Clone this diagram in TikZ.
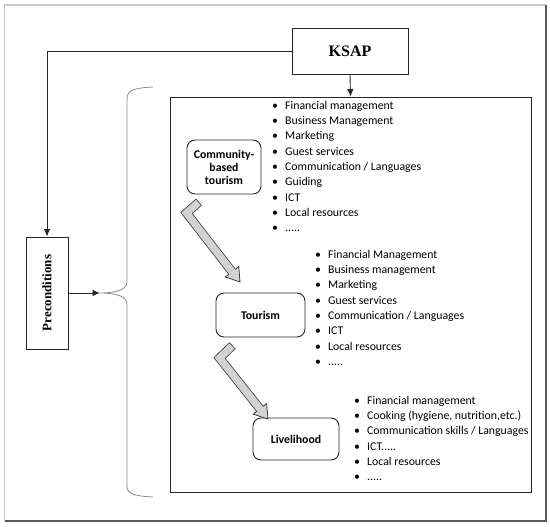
\documentclass[tikz,border=0pt]{standalone}
\usepackage{fontspec}
\setmainfont{Carlito}
\newfontfamily\timesb{Liberation Serif}
\usetikzlibrary{arrows.meta,calc}
\definecolor{framelight}{HTML}{C8C8C8}
\definecolor{framedark}{HTML}{5A5A5A}
\definecolor{linecol}{HTML}{262626}
\definecolor{fatfill}{HTML}{D2D2D2}
\definecolor{fatline}{HTML}{3C3C3C}
\definecolor{bracecol}{HTML}{8A8A8A}
\newcommand{\bul}{\makebox[13pt][l]{•}}
\newcommand{\fatarrow}[3]{%
  \coordinate (fh) at ($(#3)!13pt!(#2)$);
  \draw[fatline, line width=9pt, line join=miter] (#1) -- (#2) -- (fh);
  \filldraw[fill=fatfill, draw=fatline, line width=0.8pt, line join=miter]
    ($(fh)!8.5pt!90:(#3)$) -- (#3) -- ($(fh)!8.5pt!-90:(#3)$) -- cycle;
  \draw[fatfill, line width=7.4pt, line join=miter, shorten <=0.8pt, shorten >=-1.5pt] (#1) -- (#2) -- (fh);
}
\begin{document}
\begin{tikzpicture}[x=1pt,y=-1pt,
  plainbox/.style={draw=linecol, line width=0.9pt, fill=white, inner sep=0},
  roundbox/.style={draw=linecol, line width=0.9pt, rounded corners=8pt, align=center,
    font=\fontsize{11.8}{13}\selectfont\bfseries, inner sep=0},
  listtext/.style={anchor=north west, align=left, inner sep=0,
    font=\fontsize{11.8}{15.3}\selectfont, text=black},
  conn/.style={draw=linecol, line width=0.9pt},
  tip/.style={-{Latex[length=7.5pt,width=6.5pt]}}
]
\useasboundingbox (0,0) rectangle (550,527);
\fill[white] (0,0) rectangle (550,527);
% frame
\draw[framelight, line width=1.5pt] (4.5,521) -- (4.5,5) -- (546,5);
\draw[framedark, line width=1.2pt] (546,5) -- (546,521) -- (4.5,521);

% main nodes
\node[plainbox, minimum width=116pt, minimum height=46pt,
  font=\timesb\bfseries\fontsize{16}{18}\selectfont] (ksap) at (350,51) {KSAP};
\node[plainbox, minimum width=361pt, minimum height=395pt] (main) at (350.5,294.5) {};
\node[plainbox, rotate=90, minimum width=112pt, minimum height=42pt,
  font=\timesb\bfseries\fontsize{13}{15}\selectfont] (pre) at (47,293) {Preconditions};

% brace
\coordinate (bracetip) at (100,293);
\draw[bracecol, line width=0.8pt] (153,87) .. controls (134,88) and (127,90) .. (127,99)
  -- (127,282) .. controls (127,291) and (112,293) .. (bracetip)
  .. controls (112,293) and (127,295) .. (127,304)
  -- (127,486) .. controls (127,494) and (134,496) .. (153,497);

% connectors
\draw[conn, tip] (ksap.west) -| (pre.east);
\draw[conn, tip] (ksap.south) -- (main.north);
\draw[conn, tip] (pre.south) -- (bracetip);

% stage boxes
\node[roundbox, minimum width=74pt, minimum height=54pt] (cbt) at (224,167) {Community-\\based\\tourism};
\node[roundbox, minimum width=89pt, minimum height=44pt] (tour) at (260.5,315) {Tourism};
\node[roundbox, minimum width=86pt, minimum height=42pt] (live) at (296,439) {Livelihood};

% lists
\node[listtext] (l1) at (272,101) {\bul Financial management\\ \bul Business Management\\
  \bul Marketing\\ \bul Guest services\\ \bul Communication / Languages\\ \bul Guiding\\
  \bul ICT\\ \bul Local resources\\ \bul .....};
\node[listtext] (l2) at (315,250) {\bul Financial Management\\ \bul Business management\\
  \bul Marketing\\ \bul Guest services\\ \bul Communication / Languages\\
  \bul ICT\\ \bul Local resources\\ \bul .....};
\node[listtext] (l3) at (354,396) {\bul Financial management\\ \bul Cooking (hygiene, nutrition,etc.)\\
  \bul Communication skills / Languages\\ \bul ICT.....\\ \bul Local resources\\ \bul .....};

% fat arrows
\coordinate (a1s) at (199,202);
\coordinate (a1b) at (186.5,213);
\coordinate (a1t) at (240,282);
\coordinate (a2s) at (232.5,345.5);
\coordinate (a2b) at (219.5,358);
\coordinate (a2t) at (268,419);
\fatarrow{a1s}{a1b}{a1t}
\fatarrow{a2s}{a2b}{a2t}
\end{tikzpicture}
\end{document}
